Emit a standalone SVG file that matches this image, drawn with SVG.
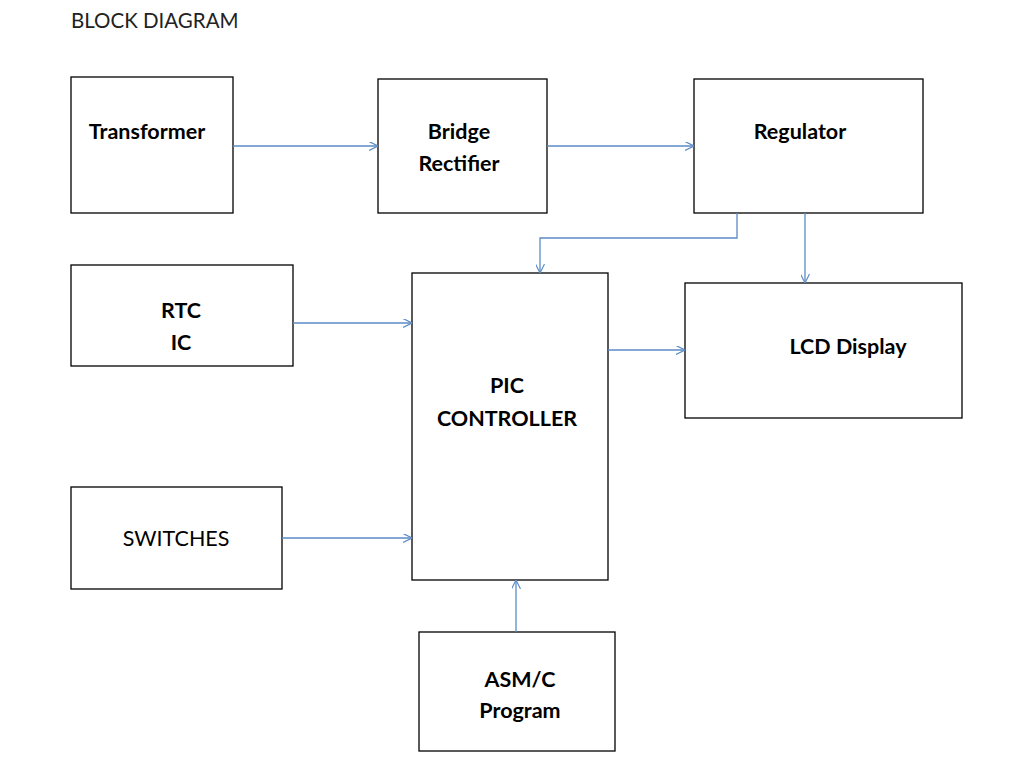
<svg xmlns="http://www.w3.org/2000/svg" width="1024" height="768" viewBox="0 0 1024 768">
<style>
.box{fill:#fff;stroke:#000;stroke-width:1.3}
.t{font-family:Lato,"Liberation Sans",sans-serif;font-size:21.5px;font-weight:bold;text-anchor:middle;fill:#000}
.n{font-weight:normal}
.c{fill:none;stroke:#5b8bc7;stroke-width:1.3;marker-end:url(#a)}
</style>
<defs><marker id="a" viewBox="0 0 10 10" refX="10" refY="5" markerWidth="9" markerHeight="9" markerUnits="userSpaceOnUse" orient="auto"><path d="M0,0L10,5L0,10" fill="none" stroke="#5b8bc7" stroke-width="1.3"/></marker></defs>
<rect width="1024" height="768" fill="#fff"/>
<text x="71" y="28" font-family="Lato,'Liberation Sans',sans-serif" font-size="20.5" fill="#222">BLOCK DIAGRAM</text>
<g id="transformer"><rect class="box" x="71" y="77" width="162" height="136"/><text class="t" x="147" y="139">Transformer</text></g>
<g id="bridge"><rect class="box" x="378" y="79" width="169" height="134"/><text class="t" x="459" y="139">Bridge</text><text class="t" x="459" y="171">Rectifier</text></g>
<g id="regulator"><rect class="box" x="694" y="79" width="229" height="134"/><text class="t" x="800" y="139">Regulator</text></g>
<g id="rtc"><rect class="box" x="71" y="265" width="222" height="101"/><text class="t" x="181" y="318">RTC</text><text class="t" x="181" y="350">IC</text></g>
<g id="pic"><rect class="box" x="412" y="273" width="196" height="307"/><text class="t" x="507" y="393">PIC</text><text class="t" x="507" y="426">CONTROLLER</text></g>
<g id="lcd"><rect class="box" x="685" y="283" width="277" height="135"/><text class="t" x="848" y="354">LCD Display</text></g>
<g id="switches"><rect class="box" x="71" y="487" width="211" height="102"/><text class="t n" x="176" y="546">SWITCHES</text></g>
<g id="asm"><rect class="box" x="419" y="632" width="196" height="119"/><text class="t" x="520" y="687">ASM/C</text><text class="t" x="520" y="718">Program</text></g>
<g id="connectors">
<path class="c" d="M233,146H378"/>
<path class="c" d="M547,146H694"/>
<path class="c" d="M737,213V238H540V273"/>
<path class="c" d="M805,213V283"/>
<path class="c" d="M293,323H412"/>
<path class="c" d="M608,350H685"/>
<path class="c" d="M282,538H412"/>
<path class="c" d="M516,632V580"/>
</g>
</svg>
